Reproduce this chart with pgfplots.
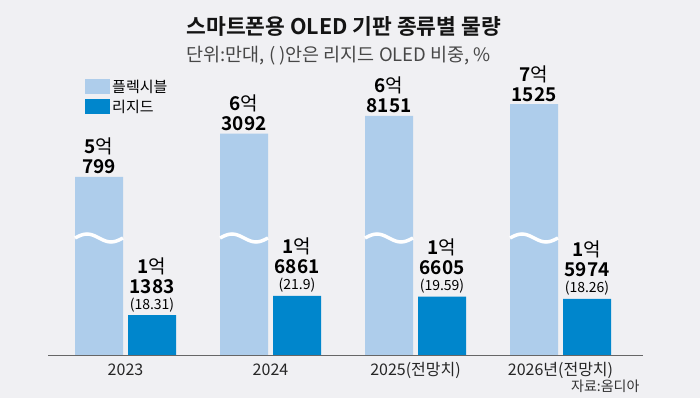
\documentclass[border=0pt]{standalone}
\usepackage{pgfplots}
\pgfplotsset{compat=1.18}
\usepackage{fontspec}
\setmainfont{Noto Sans CJK KR}[BoldFont=Noto Sans CJK KR Bold]
\definecolor{bg}{RGB}{240,240,243}
\definecolor{flex}{RGB}{174,205,235}
\definecolor{rigid}{RGB}{0,134,204}
\newcommand\lbl{\fontsize{19}{20}\selectfont}
\newcommand\pct{\fontsize{14}{16}\selectfont}
\begin{document}
\begin{tikzpicture}
\fill[bg] (0pt,0pt) rectangle (700pt,398pt);
\node[anchor=base west, font=\fontsize{21.5}{24}\selectfont\bfseries, text=black!92] at (183pt,363pt) {스마트폰용 OLED 기판 종류별 물량};
\node[anchor=base west, font=\fontsize{18.5}{21}\selectfont, text=black!72] at (183pt,336pt) {단위:만대, ( )안은 리지드 OLED 비중, \%};
\node[anchor=base east, font=\fontsize{14}{16}\selectfont, text=black!80] at (643pt,6pt) {자료:옴디아};
\begin{axis}[
  at={(48pt,43pt)}, anchor=south west,
  scale only axis, width=595pt, height=300pt,
  xmin=-0.5345, xmax=3.569, ymin=0, ymax=85500,
  hide y axis,
  axis x line*=bottom,
  x axis line style={-, draw=black!60, line width=0.8pt},
  xtick={0,1,2,3},
  xticklabels={2023,2024,2025(전망치),2026년(전망치)},
  major tick length=0pt,
  xticklabel style={anchor=base, yshift=-20pt, font=\fontsize{16}{18}\selectfont, text=black!85},
  clip=false,
  ybar, bar width=48pt,
  legend style={at={(0.0622,0.92)}, anchor=north west, draw=none, fill=none,
    inner sep=0pt, row sep=5pt, font=\fontsize{15}{16}\selectfont,
    nodes={inner xsep=2pt, inner ysep=0pt}},
  legend cell align=left,
  legend image code/.code={\fill[#1, draw=none] (0pt,-7.5pt) rectangle (25pt,7.5pt);},
]
\addplot[fill=flex, draw=none, bar shift=-26.5pt] coordinates {(0,50799) (1,63092) (2,68151) (3,71525)};
\addplot[fill=rigid, draw=none, bar shift=26.5pt] coordinates {(0,11383) (1,16861) (2,16605) (3,15974)};
\legend{플렉시블,리지드}
% wave breaks on flexible bars
\draw[white, line width=3.5pt] ([xshift=-50.5pt]axis cs:0,33345) sin ++(12pt,4pt) cos ++(12pt,-4pt) sin ++(12pt,-4pt) cos ++(12pt,4pt);
\draw[white, line width=3.5pt] ([xshift=-50.5pt]axis cs:1,33345) sin ++(12pt,4pt) cos ++(12pt,-4pt) sin ++(12pt,-4pt) cos ++(12pt,4pt);
\draw[white, line width=3.5pt] ([xshift=-50.5pt]axis cs:2,33345) sin ++(12pt,4pt) cos ++(12pt,-4pt) sin ++(12pt,-4pt) cos ++(12pt,4pt);
\draw[white, line width=3.5pt] ([xshift=-50.5pt]axis cs:3,33345) sin ++(12pt,4pt) cos ++(12pt,-4pt) sin ++(12pt,-4pt) cos ++(12pt,4pt);
% flexible labels
\node[anchor=base, font=\lbl] at ([xshift=-26.5pt,yshift=3pt]axis cs:0,50799) {\textbf{799}};
\node[anchor=base, font=\lbl] at ([xshift=-26.5pt,yshift=23pt]axis cs:0,50799) {\textbf{5}억};
\node[anchor=base, font=\lbl] at ([xshift=-26.5pt,yshift=3pt]axis cs:1,63092) {\textbf{3092}};
\node[anchor=base, font=\lbl] at ([xshift=-26.5pt,yshift=23pt]axis cs:1,63092) {\textbf{6}억};
\node[anchor=base, font=\lbl] at ([xshift=-26.5pt,yshift=3pt]axis cs:2,68151) {\textbf{8151}};
\node[anchor=base, font=\lbl] at ([xshift=-26.5pt,yshift=23pt]axis cs:2,68151) {\textbf{6}억};
\node[anchor=base, font=\lbl] at ([xshift=-26.5pt,yshift=3pt]axis cs:3,71525) {\textbf{1525}};
\node[anchor=base, font=\lbl] at ([xshift=-26.5pt,yshift=23pt]axis cs:3,71525) {\textbf{7}억};
% rigid labels
\node[anchor=base, font=\pct] at ([xshift=26.5pt,yshift=6pt]axis cs:0,11383) {(18.31)};
\node[anchor=base, font=\lbl] at ([xshift=26.5pt,yshift=22pt]axis cs:0,11383) {\textbf{1383}};
\node[anchor=base, font=\lbl] at ([xshift=26.5pt,yshift=42pt]axis cs:0,11383) {\textbf{1}억};
\node[anchor=base, font=\pct] at ([xshift=26.5pt,yshift=6pt]axis cs:1,16861) {(21.9)};
\node[anchor=base, font=\lbl] at ([xshift=26.5pt,yshift=22pt]axis cs:1,16861) {\textbf{6861}};
\node[anchor=base, font=\lbl] at ([xshift=26.5pt,yshift=42pt]axis cs:1,16861) {\textbf{1}억};
\node[anchor=base, font=\pct] at ([xshift=26.5pt,yshift=6pt]axis cs:2,16605) {(19.59)};
\node[anchor=base, font=\lbl] at ([xshift=26.5pt,yshift=22pt]axis cs:2,16605) {\textbf{6605}};
\node[anchor=base, font=\lbl] at ([xshift=26.5pt,yshift=42pt]axis cs:2,16605) {\textbf{1}억};
\node[anchor=base, font=\pct] at ([xshift=26.5pt,yshift=6pt]axis cs:3,15974) {(18.26)};
\node[anchor=base, font=\lbl] at ([xshift=26.5pt,yshift=22pt]axis cs:3,15974) {\textbf{5974}};
\node[anchor=base, font=\lbl] at ([xshift=26.5pt,yshift=42pt]axis cs:3,15974) {\textbf{1}억};
\end{axis}
\end{tikzpicture}
\end{document}
